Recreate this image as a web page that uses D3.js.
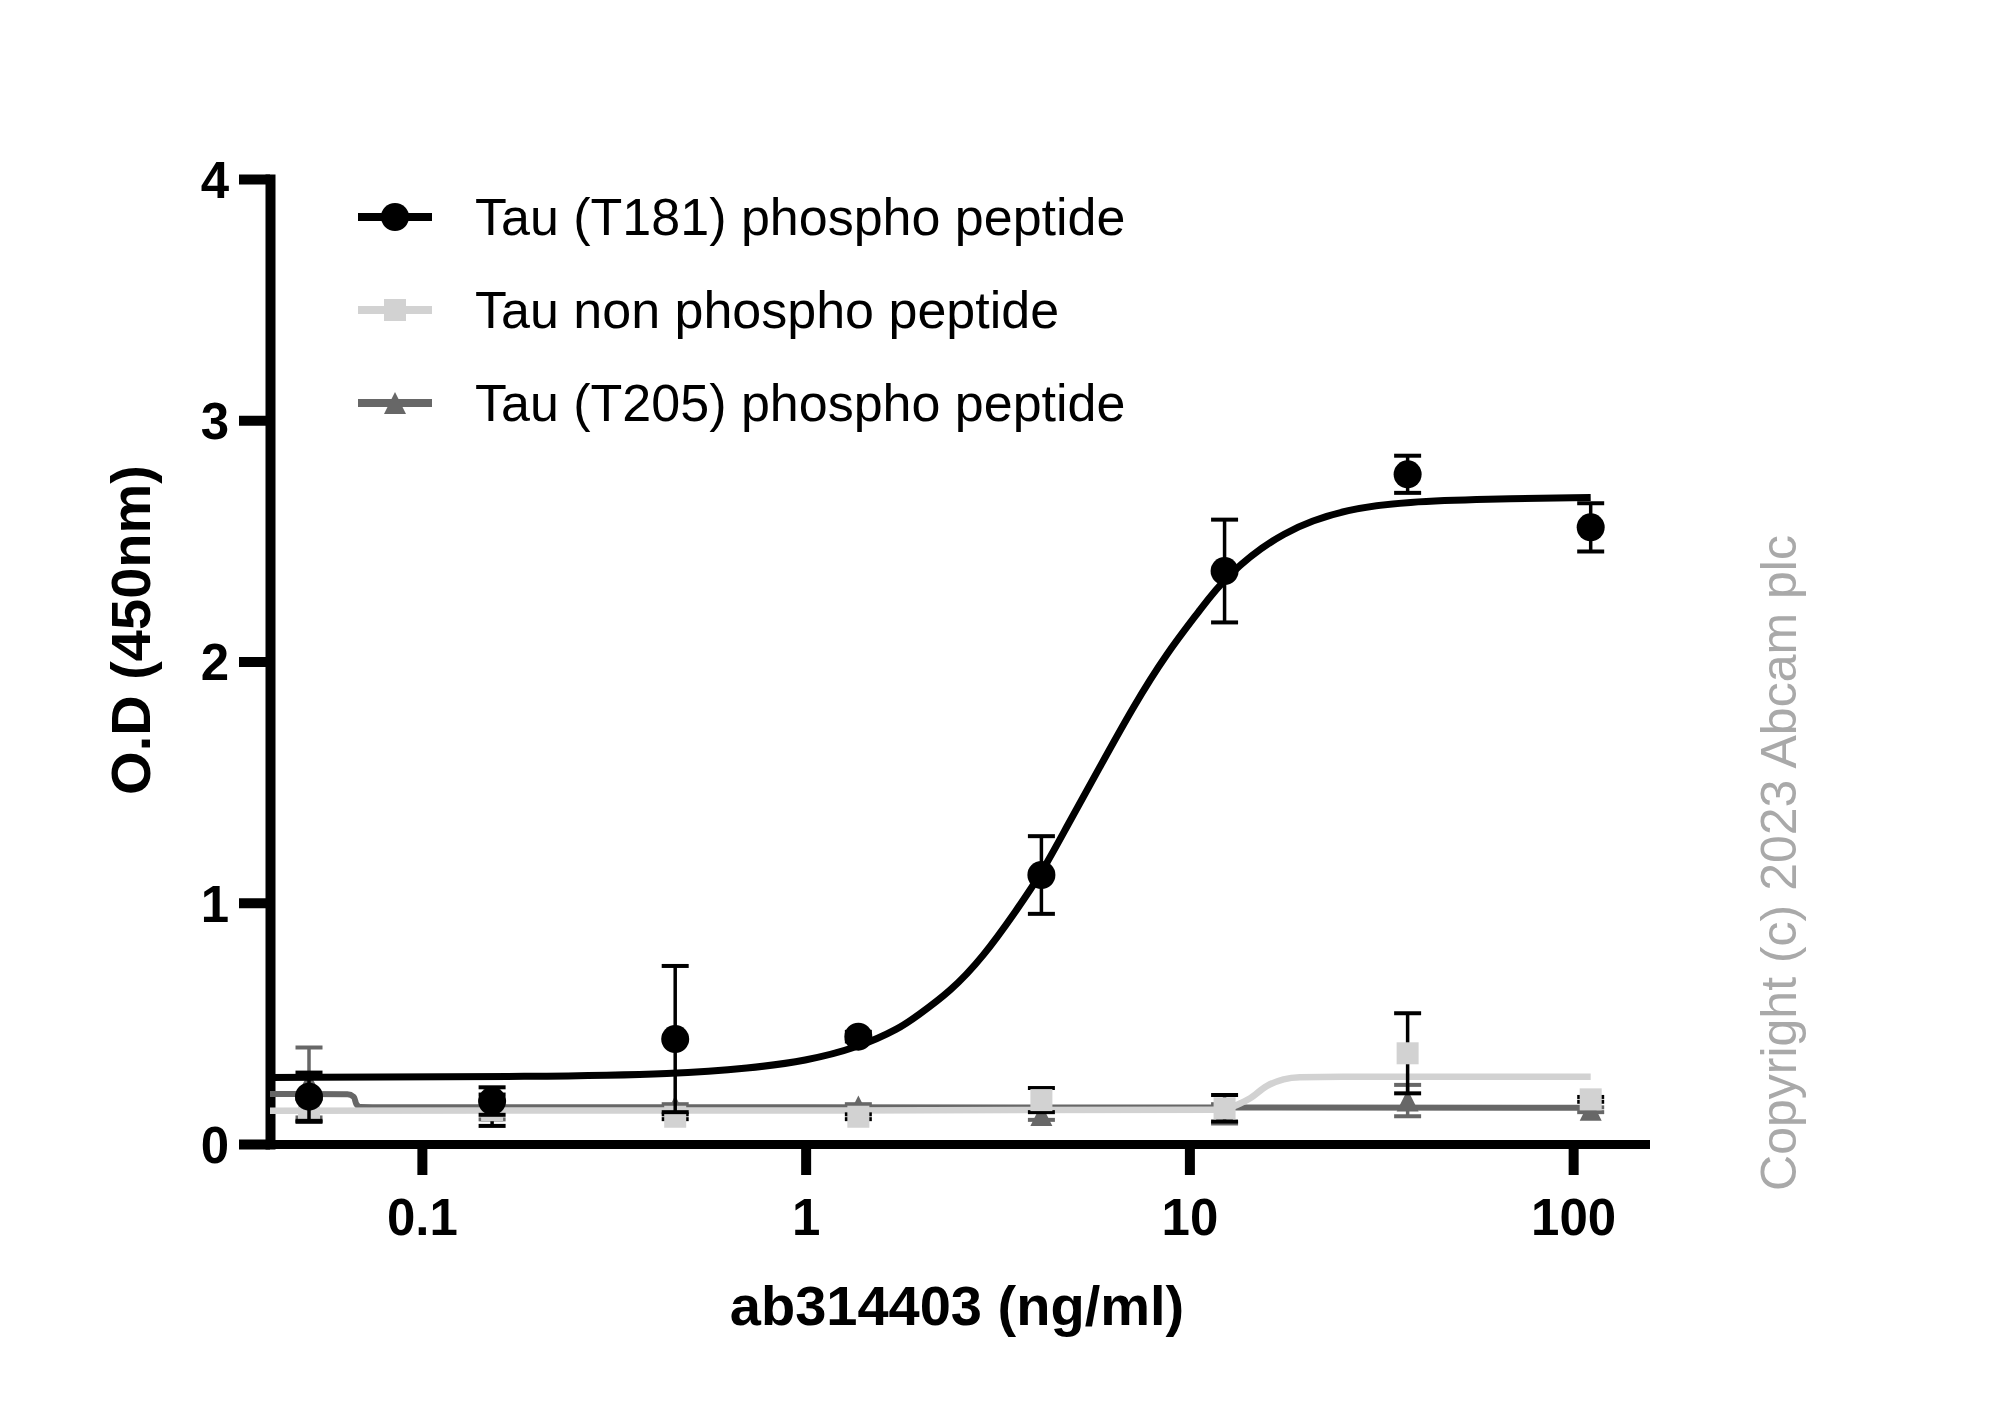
<!DOCTYPE html>
<html>
<head>
<meta charset="utf-8">
<script src="https://cdn.jsdelivr.net/npm/d3@7"></script>
<style>
  html, body { margin: 0; padding: 0; background: #ffffff; }
  svg { display: block; }
</style>
</head>
<body>
<script>
// ---------------- DATA ----------------
const concentrations = [0.0508, 0.1524, 0.4572, 1.372, 4.115, 12.35, 37.04, 111.1];

const t181Mean = [0.196, 0.178, 0.435, 0.445, 1.115, 2.375, 2.776, 2.556];
const t181Err  = [0.100, 0.057, 0.303, 0.020, 0.161, 0.213, 0.077, 0.100];

const nonMean  = [0.140, 0.140, 0.113, 0.113, 0.182, 0.148, 0.376, 0.185];
const nonErr   = [0.048, 0.065, 0.010, 0.010, 0.050, 0.055, 0.166, 0.010];

const t205Mean = [0.255, 0.140, 0.155, 0.155, 0.120, 0.125, 0.180, 0.142];
const t205Err  = [0.145, 0.038, 0.010, 0.010, 0.020, 0.040, 0.065, 0.010];

// fitted curves
const t181FitX = [0.0402, 0.2157, 0.4572, 0.716, 1.0, 1.372, 1.762, 1.947, 2.377, 2.904, 3.548, 4.12, 4.79, 5.85, 7.14, 8.72, 10.66, 12.35, 17.5, 26.2, 37.04, 58.2, 111.1];
const t181FitY = [0.276, 0.279, 0.290, 0.314, 0.344, 0.400, 0.480, 0.530, 0.630, 0.776, 0.970, 1.122, 1.315, 1.564, 1.813, 2.034, 2.213, 2.350, 2.545, 2.636, 2.662, 2.673, 2.680];

const nonFitX  = [0.0402, 1.0, 12.35, 13.2, 14.4, 15.9, 17.6, 19.4, 25.0, 111.1];
const nonFitY  = [0.138, 0.139, 0.142, 0.160, 0.190, 0.240, 0.268, 0.277, 0.279, 0.279];

const t205FitX = [0.0402, 0.064, 0.0665, 0.0675, 0.069, 0.08, 1.0, 111.1];
const t205FitY = [0.207, 0.206, 0.195, 0.165, 0.153, 0.152, 0.152, 0.150];

const xTickValues = [0.1, 1, 10, 100];
const xTickLabels = ["0.1", "1", "10", "100"];
const yTickValues = [0, 1, 2, 3, 4];

const legendLabels = ["Tau (T181) phospho peptide", "Tau non phospho peptide", "Tau (T205) phospho peptide"];
const xTitle = "ab314403 (ng/ml)";
const yTitle = "O.D (450nm)";
const copyright = "Copyright (c) 2023 Abcam plc";

// ---------------- STYLE ----------------
const W = 2000, H = 1425;
const colBlack = "#000000", colLight = "#d2d2d2", colDark = "#676767";
const fontFam = "'Liberation Sans', Arial, Helvetica, sans-serif";

const svg = d3.select("body").append("svg")
  .attr("width", W).attr("height", H)
  .style("font-family", fontFam);

const x = d3.scaleLog().domain([0.0402, 153.9]).range([270, 1645]);
const y = d3.scaleLinear().domain([0, 4]).range([1144, 179]);

// ---------------- AXES ----------------
const yAxis = svg.append("g").attr("transform", "translate(270,0)")
  .call(d3.axisLeft(y).tickValues(yTickValues).tickFormat(d3.format("d"))
        .tickSize(31).tickSizeOuter(0).tickPadding(10));
yAxis.select(".domain").attr("stroke", "#000").attr("stroke-width", 10).attr("stroke-linecap", "square");
yAxis.selectAll(".tick line").attr("stroke", "#000").attr("stroke-width", 10);
yAxis.selectAll(".tick text").attr("fill", "#000").style("font-size", "51px").style("font-weight", "bold")
  .attr("dy", "0.36em");

const xAxis = svg.append("g").attr("transform", "translate(0,1144)")
  .call(d3.axisBottom(x).tickValues(xTickValues).tickFormat((d, i) => xTickLabels[i])
        .tickSize(31).tickSizeOuter(0));
xAxis.select(".domain").attr("stroke", "#000").attr("stroke-width", 9).attr("stroke-linecap", "square");
xAxis.selectAll(".tick line").attr("stroke", "#000").attr("stroke-width", 10);
xAxis.selectAll(".tick text").attr("fill", "#000").style("font-size", "51px").style("font-weight", "bold")
  .attr("dy", null).attr("y", 91);

// titles
svg.append("text").attr("x", 957).attr("y", 1325).attr("text-anchor", "middle")
  .style("font-size", "56px").style("font-weight", "bold").text(xTitle);
svg.append("text").attr("transform", "translate(150,630) rotate(-90)").attr("text-anchor", "middle")
  .style("font-size", "56px").style("font-weight", "bold").text(yTitle);

// copyright
svg.append("text").attr("transform", "translate(1796,863) rotate(-90)").attr("text-anchor", "middle")
  .style("font-size", "50px").attr("fill", "#a9a9a9").text(copyright);

// ---------------- SYMBOLS ----------------
function drawSymbol(g, kind, cx, cy, color) {
  if (kind === "circle") {
    g.append("circle").attr("cx", cx).attr("cy", cy).attr("r", 14).attr("fill", color);
  } else if (kind === "square") {
    g.append("rect").attr("x", cx - 11).attr("y", cy - 11).attr("width", 22).attr("height", 22).attr("fill", color);
  } else {
    g.append("path").attr("d", `M${cx},${cy - 11}L${cx + 11},${cy + 11}L${cx - 11},${cy + 11}Z`).attr("fill", color);
  }
}

function drawErrors(g, means, errs, color) {
  concentrations.forEach((c, i) => {
    const cx = x(c), top = y(means[i] + errs[i]), bot = y(means[i] - errs[i]);
    g.append("line").attr("x1", cx).attr("x2", cx).attr("y1", top).attr("y2", bot)
      .attr("stroke", color).attr("stroke-width", 3.5);
    [top, bot].forEach(yy => {
      g.append("line").attr("x1", cx - 13.5).attr("x2", cx + 13.5).attr("y1", yy).attr("y2", yy)
        .attr("stroke", color).attr("stroke-width", 4);
    });
  });
}

const lineMono = d3.line().x(d => x(d[0])).y(d => y(d[1])).curve(d3.curveMonotoneX);
const lineSmooth = d3.line().x(d => x(d[0])).y(d => y(d[1])).curve(d3.curveBasis);

const series = [
  { means: t205Mean, errs: t205Err, fx: t205FitX, fy: t205FitY, color: colDark, errColor: colDark, kind: "triangle", lw: 6, gen: lineMono },
  { means: nonMean,  errs: nonErr,  fx: nonFitX,  fy: nonFitY,  color: colLight, errColor: colBlack, kind: "square", lw: 6.5, gen: lineMono },
  { means: t181Mean, errs: t181Err, fx: t181FitX, fy: t181FitY, color: colBlack, errColor: colBlack, kind: "circle", lw: 7, gen: lineSmooth }
];

series.forEach(s => {
  const g = svg.append("g");
  g.append("path").datum(s.fx.map((v, i) => [v, s.fy[i]]))
    .attr("d", s.gen).attr("fill", "none").attr("stroke", s.color).attr("stroke-width", s.lw);
  drawErrors(g, s.means, s.errs, s.errColor);
  concentrations.forEach((c, i) => drawSymbol(g, s.kind, x(c), y(s.means[i]), s.color));
});

// ---------------- LEGEND ----------------
const legendItems = [
  { label: legendLabels[0], color: colBlack, kind: "circle" },
  { label: legendLabels[1], color: colLight, kind: "square" },
  { label: legendLabels[2], color: colDark,  kind: "triangle" }
];
const legendRows = [217, 310, 403];
legendItems.forEach((it, i) => {
  const g = svg.append("g");
  const ry = legendRows[i];
  g.append("line").attr("x1", 358).attr("x2", 432).attr("y1", ry).attr("y2", ry)
    .attr("stroke", it.color).attr("stroke-width", 8);
  drawSymbol(g, it.kind, 395, ry, it.color);
  g.append("text").attr("x", 475).attr("y", ry + 18).style("font-size", "52px").attr("fill", "#000").text(it.label);
});
</script>
</body>
</html>
